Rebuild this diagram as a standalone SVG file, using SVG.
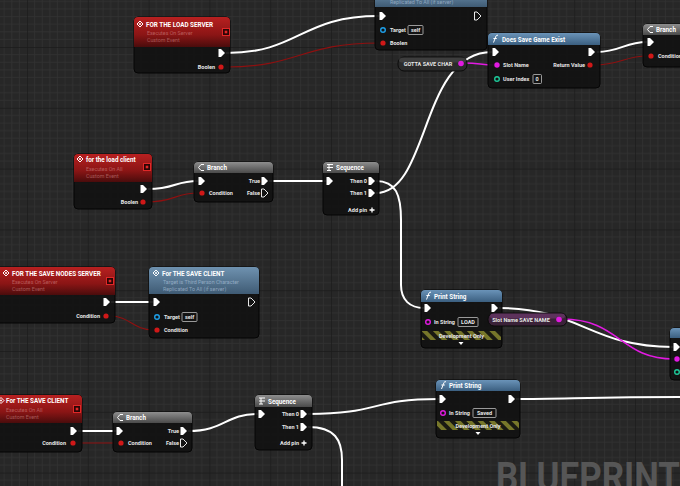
<svg xmlns="http://www.w3.org/2000/svg" xmlns:xlink="http://www.w3.org/1999/xlink" width="680" height="486" viewBox="0 0 680 486">
<style>
.t{font-family:Roboto,"Liberation Sans",sans-serif;font-weight:bold;fill:#fff}
.ti{font-size:6.3px}
.sb{font-size:5.3px;font-weight:normal}
.sr{fill:#e0a0a0;fill-opacity:.5}
.sbl{fill:#c8dcef;fill-opacity:.55}
.l{font-size:5.5px;fill:#e6e6e6}
.r{text-anchor:end}
.m{text-anchor:middle}
.body{fill:#121212;fill-opacity:.93;stroke:#050505;stroke-width:1}
.ex{fill:#fff}
.exh{fill:none;stroke:#fff;stroke-width:.9}
.w{fill:none;stroke:#fff;stroke-width:2}
.rw{fill:none;stroke:#8e1010;stroke-width:1.2}
.mw{fill:none;stroke:#e21ae2;stroke-width:1.5}
.box{fill:none;stroke:#bdbdbd;stroke-width:.8}
.icon{fill:none;stroke:#fff;stroke-width:1}
</style>
<defs>
<pattern id="grid" width="60.8" height="60.8" x="27" y="47" patternUnits="userSpaceOnUse">
<rect width="60.8" height="60.8" fill="#272727"/>
<g stroke="#323232" stroke-width=".8">
<path d="M7.6,0V60.8M15.2,0V60.8M22.8,0V60.8M30.4,0V60.8M38,0V60.8M45.6,0V60.8M53.2,0V60.8"/>
<path d="M0,7.6H60.8M0,15.2H60.8M0,22.8H60.8M0,30.4H60.8M0,38H60.8M0,45.6H60.8M0,53.2H60.8"/>
</g>
<path d="M0,0V60.8M0,0H60.8" stroke="#1b1b1b" stroke-width="1.4"/>
</pattern>
<pattern id="stripe" width="8" height="8" patternUnits="userSpaceOnUse" patternTransform="rotate(-45)">
<rect width="8" height="8" fill="#191912"/>
<rect width="4" height="8" fill="#77772a"/>
</pattern>
<linearGradient id="gRed" x1="0" y1="0" x2="0" y2="1">
<stop offset="0" stop-color="#b82020"/><stop offset=".6" stop-color="#8a1515"/><stop offset="1" stop-color="#4a0c0c"/>
</linearGradient>
<linearGradient id="gBlue" x1="0" y1="0" x2="0" y2="1">
<stop offset="0" stop-color="#6a93b8"/><stop offset="1" stop-color="#3b5f80"/>
</linearGradient>
<linearGradient id="gSteel" x1="0" y1="0" x2="0" y2="1">
<stop offset="0" stop-color="#6f92b0"/><stop offset="1" stop-color="#3f5b74"/>
</linearGradient>
<linearGradient id="gGray" x1="0" y1="0" x2="0" y2="1">
<stop offset="0" stop-color="#8e8e8e"/><stop offset="1" stop-color="#4a4a4a"/>
</linearGradient>
<path id="exp" d="M-3.5,-4 h2.5 l4,4 l-4,4 h-2.5 z"/>
<g id="dlg"><rect x="-3.5" y="-3.5" width="7" height="7" fill="#2a0505" stroke="#e02828" stroke-width="1"/><rect x="-1.3" y="-1.3" width="2.6" height="2.6" fill="#e02828"/></g>
<g id="evi"><path d="M0,-3 L3,0 L0,3 L-3,0 Z" class="icon"/><circle r="1" fill="#fff"/></g>
<path id="fni" d="M-1.5,3.5 L1,-3 Q1.5,-4 3,-3.8 M-1.6,-0.5 H1.8" class="icon"/>
<path id="bri" d="M3,-3 H0 L-2.5,0 L0,3 H3" class="icon"/>
<path id="sqi" d="M-3,-3 H3 M-3,0 H3 M-3,3 H1 M-1,-3 V3" class="icon"/>
</defs>

<rect width="680" height="486" fill="url(#grid)"/>

<text class="t" x="496" y="491" font-size="40" fill="#555" style="fill:#565656" textLength="184" lengthAdjust="spacingAndGlyphs">BLUEPRINT</text>

<g id="connectors">
<path class="w" d="M226,53 C300,53 300,16 379,16"/>
<path class="rw" d="M225,67 C300,67 300,43 379,43"/>
<path class="w" d="M597,52 C620,52 625,42 647,42"/>
<path class="rw" d="M594,65 C620,65 625,56 647,56"/>
<path class="mw" d="M464,63 C480,63 480,65 494,65"/>
<path class="w" d="M376,193 C430,193 420,52 492,52"/>
<path class="w" d="M376,181 C396,181 401,195 401,220 L401,285 C401,300 410,308 424,308"/>
<path class="w" d="M148,189 C175,189 175,181 198,181"/>
<path class="rw" d="M147,202 C175,202 175,193 198,193"/>
<path class="w" d="M269,181 L326,181"/>
<path class="w" d="M111,302 L153,302"/>
<path class="rw" d="M110,316 C130,316 133,330 153,330"/>
<path class="w" d="M499,308 C580,308 590,347 673,347"/>
<path class="mw" d="M562,319 C620,319 620,359 674,359"/>
<path class="w" d="M78,431 L116,431"/>
<path class="rw" d="M77,443 L117,443"/>
<path class="w" d="M188,431 C225,431 225,414 258,414"/>
<path class="w" d="M308,414 C380,414 370,399 439,399"/>
<path class="w" d="M308,427 C335,427 342,440 342,460 L342,486"/>
<path class="w" d="M516,399 C560,399 600,397 680,397"/>
</g>

<g id="n-load-server">
<rect class="body" x="134" y="17" width="96" height="56" rx="4"/>
<path d="M134,47 V21 Q134,17 138,17 H226 Q230,17 230,21 V47 Z" fill="url(#gRed)"/>
<use href="#evi" x="140" y="24"/>
<text class="t ti" x="146" y="26.5">FOR THE LOAD SERVER</text>
<text class="t sb sr" x="147" y="35">Executes On Server</text>
<text class="t sb sr" x="147" y="42">Custom Event</text>
<use href="#dlg" x="226" y="32"/>
<use href="#exp" class="ex" x="222" y="53"/>
<text class="t l r" x="215" y="69">Boolen</text>
<circle cx="221" cy="67" r="2.6" fill="#d01818"/>
</g>

<g id="n-replicated-top">
<rect class="body" x="375" y="-10" width="112" height="60" rx="4"/>
<path d="M375,-10 H487 V7 H375 Z" fill="url(#gSteel)"/>
<text class="t sb sbl" x="390" y="4">Replicated To All (if server)</text>
<use href="#exp" class="ex" x="383" y="16"/>
<use href="#exp" class="exh" x="478" y="16"/>
<circle cx="383" cy="30" r="2.3" fill="none" stroke="#1ea0ea" stroke-width="1.4"/>
<text class="t l" x="390" y="32">Target</text>
<rect class="box" x="408" y="25.5" width="15" height="9" rx="1"/>
<text class="t l m" x="415.5" y="32">self</text>
<circle cx="383" cy="43" r="2.6" fill="#d01818"/>
<text class="t l" x="390" y="45">Boolen</text>
</g>

<g id="n-gotta-save-char">
<rect x="398" y="57" width="69" height="14" rx="6" fill="#2b2b2b" stroke="#0a0a0a"/>
<rect x="399" y="57.5" width="67" height="5" rx="3" fill="#4a4a4a" fill-opacity=".6"/>
<text class="t l m" x="428" y="66">GOTTA SAVE CHAR</text>
<circle cx="461" cy="63.5" r="2.8" fill="#e21ae2"/>
</g>

<g id="n-does-save-game-exist">
<rect class="body" x="488" y="33" width="112" height="55" rx="4"/>
<path d="M488,45 V37 Q488,33 492,33 H596 Q600,33 600,37 V45 Z" fill="url(#gBlue)"/>
<use href="#fni" x="495" y="39"/>
<text class="t ti" x="502" y="41.5">Does Save Game Exist</text>
<use href="#exp" class="ex" x="496" y="52"/>
<use href="#exp" class="ex" x="592" y="52"/>
<circle cx="497" cy="65" r="2.7" fill="#e21ae2"/>
<text class="t l" x="503" y="67">Slot Name</text>
<text class="t l r" x="585" y="67">Return Value</text>
<circle cx="590" cy="65" r="2.6" fill="#d01818"/>
<circle cx="497" cy="79" r="2.3" fill="none" stroke="#1ec99a" stroke-width="1.4"/>
<text class="t l" x="503" y="81">User Index</text>
<rect class="box" x="533" y="74.5" width="8.5" height="9" rx="1"/>
<text class="t l m" x="537.2" y="81">0</text>
</g>

<g id="n-branch-top">
<rect class="body" x="643" y="24" width="45" height="43" rx="4"/>
<path d="M643,35 V28 Q643,24 647,24 H688 V35 Z" fill="url(#gGray)"/>
<use href="#bri" x="650" y="29.5"/>
<text class="t ti" x="656" y="32">Branch</text>
<use href="#exp" class="ex" x="651" y="42"/>
<circle cx="651" cy="56" r="2.6" fill="#d01818"/>
<text class="t l" x="658" y="58">Condition</text>
</g>

<g id="n-load-client">
<rect class="body" x="74" y="154" width="78" height="55" rx="4"/>
<path d="M74,182 V158 Q74,154 78,154 H148 Q152,154 152,158 V182 Z" fill="url(#gRed)"/>
<use href="#evi" x="80" y="159"/>
<text class="t ti" x="86" y="161.5">for the load client</text>
<text class="t sb sr" x="86" y="171">Executes On All</text>
<text class="t sb sr" x="86" y="178">Custom Event</text>
<use href="#dlg" x="147" y="167"/>
<use href="#exp" class="ex" x="144" y="189"/>
<text class="t l r" x="138" y="204">Boolen</text>
<circle cx="143" cy="202" r="2.6" fill="#d01818"/>
</g>

<g id="n-branch-load">
<rect class="body" x="194" y="162" width="79" height="40" rx="4"/>
<path d="M194,173 V166 Q194,162 198,162 H269 Q273,162 273,166 V173 Z" fill="url(#gGray)"/>
<use href="#bri" x="201" y="167.5"/>
<text class="t ti" x="207" y="170">Branch</text>
<use href="#exp" class="ex" x="202" y="181"/>
<circle cx="202" cy="193" r="2.6" fill="#d01818"/>
<text class="t l" x="209" y="195">Condition</text>
<text class="t l r" x="260" y="183">True</text>
<use href="#exp" class="ex" x="265" y="181"/>
<text class="t l r" x="260" y="195">False</text>
<use href="#exp" class="exh" x="265" y="193"/>
</g>

<g id="n-sequence-load">
<rect class="body" x="323" y="162" width="56" height="53" rx="4"/>
<path d="M323,173 V166 Q323,162 327,162 H375 Q379,162 379,166 V173 Z" fill="url(#gGray)"/>
<use href="#sqi" x="330" y="167.5"/>
<text class="t ti" x="336" y="170">Sequence</text>
<use href="#exp" class="ex" x="330" y="181"/>
<text class="t l r" x="367" y="183">Then 0</text>
<use href="#exp" class="ex" x="372" y="181"/>
<text class="t l r" x="367" y="195">Then 1</text>
<use href="#exp" class="ex" x="372" y="193"/>
<text class="t l r" x="367" y="212">Add pin</text>
<path d="M372,207.5 V212.5 M369.5,210 H374.5" stroke="#fff" stroke-width="1.3"/>
</g>

<g id="n-save-nodes-server">
<rect class="body" x="-6" y="267" width="121" height="56" rx="4"/>
<path d="M-6,295 V271 Q-6,267 -2,267 H111 Q115,267 115,271 V295 Z" fill="url(#gRed)"/>
<use href="#evi" x="6" y="273"/>
<text class="t ti" x="12" y="275.5">FOR THE SAVE NODES SERVER</text>
<text class="t sb sr" x="12" y="284">Executes On Server</text>
<text class="t sb sr" x="12" y="291">Custom Event</text>
<use href="#dlg" x="110" y="281"/>
<use href="#exp" class="ex" x="107" y="302"/>
<text class="t l r" x="100" y="318">Condition</text>
<circle cx="106" cy="316" r="2.6" fill="#d01818"/>
</g>

<g id="n-for-the-save-client-fn">
<rect class="body" x="149" y="267" width="110" height="71" rx="4"/>
<path d="M149,294 V271 Q149,267 153,267 H255 Q259,267 259,271 V294 Z" fill="url(#gSteel)"/>
<use href="#evi" x="156" y="273"/>
<text class="t ti" x="162" y="275.5">For THE SAVE CLIENT</text>
<text class="t sb sbl" x="163" y="284">Target is Third Person Character</text>
<text class="t sb sbl" x="163" y="291">Replicated To All (if server)</text>
<use href="#exp" class="ex" x="157" y="302"/>
<use href="#exp" class="exh" x="252" y="302"/>
<circle cx="157" cy="317" r="2.3" fill="none" stroke="#1ea0ea" stroke-width="1.4"/>
<text class="t l" x="164" y="319">Target</text>
<rect class="box" x="182" y="312.5" width="15" height="9" rx="1"/>
<text class="t l m" x="189.5" y="319">self</text>
<circle cx="157" cy="330" r="2.6" fill="#d01818"/>
<text class="t l" x="164" y="332">Condition</text>
</g>

<g id="n-print-load">
<rect class="body" x="421" y="290" width="81" height="58" rx="4"/>
<path d="M421,302 V294 Q421,290 425,290 H498 Q502,290 502,294 V302 Z" fill="url(#gBlue)"/>
<use href="#fni" x="428" y="296"/>
<text class="t ti" x="434" y="298.5">Print String</text>
<use href="#exp" class="ex" x="428" y="308"/>
<use href="#exp" class="ex" x="495" y="308"/>
<circle cx="428" cy="322" r="2.3" fill="none" stroke="#e21ae2" stroke-width="1.4"/>
<text class="t l" x="434" y="324">In String</text>
<rect class="box" x="458" y="317.5" width="20" height="9" rx="1"/>
<text class="t l m" x="468" y="324">LOAD</text>
<rect x="422" y="331" width="79" height="9" fill="url(#stripe)"/>
<text class="t l m" x="461.5" y="338">Development Only</text>
<path d="M458.5,342 h5 l-2.5,3 z" fill="#fff"/>
</g>

<g id="n-slot-name-save-name">
<rect x="488" y="313" width="79" height="13" rx="6" fill="#3a2238" stroke="#0a0a0a"/>
<rect x="490" y="313.5" width="75" height="5" rx="3" fill="#a050a0" fill-opacity=".35"/>
<text class="t l m" x="521" y="322">Slot Name SAVE NAME</text>
<circle cx="559" cy="319.5" r="2.8" fill="#e21ae2"/>
</g>

<g id="n-right-partial">
<rect class="body" x="670" y="328" width="20" height="52" rx="4"/>
<path d="M670,338 V332 Q670,328 674,328 H690 V338 Z" fill="url(#gBlue)"/>
<use href="#exp" class="ex" x="677" y="347"/>
<circle cx="677" cy="359" r="2.7" fill="#e21ae2"/>
<circle cx="677" cy="372" r="2.3" fill="none" stroke="#1ec99a" stroke-width="1.4"/>
</g>

<g id="n-save-client-event">
<rect class="body" x="-6" y="395" width="88" height="57" rx="4"/>
<path d="M-6,423 V399 Q-6,395 -2,395 H78 Q82,395 82,399 V423 Z" fill="url(#gRed)"/>
<use href="#evi" x="1" y="400.5"/>
<text class="t ti" x="6" y="403">For THE SAVE CLIENT</text>
<text class="t sb sr" x="6" y="412">Executes On All</text>
<text class="t sb sr" x="6" y="419">Custom Event</text>
<use href="#dlg" x="77" y="409"/>
<use href="#exp" class="ex" x="74" y="431"/>
<text class="t l r" x="66" y="445">Condition</text>
<circle cx="73" cy="443" r="2.6" fill="#d01818"/>
</g>

<g id="n-branch-save">
<rect class="body" x="113" y="412" width="79" height="40" rx="4"/>
<path d="M113,423 V416 Q113,412 117,412 H188 Q192,412 192,416 V423 Z" fill="url(#gGray)"/>
<use href="#bri" x="120" y="417.5"/>
<text class="t ti" x="126" y="420">Branch</text>
<use href="#exp" class="ex" x="120" y="431"/>
<circle cx="121" cy="443" r="2.6" fill="#d01818"/>
<text class="t l" x="128" y="445">Condition</text>
<text class="t l r" x="179" y="433">True</text>
<use href="#exp" class="ex" x="184" y="431"/>
<text class="t l r" x="179" y="445">False</text>
<use href="#exp" class="exh" x="184" y="443"/>
</g>

<g id="n-sequence-save">
<rect class="body" x="255" y="395" width="57" height="55" rx="4"/>
<path d="M255,407 V399 Q255,395 259,395 H308 Q312,395 312,399 V407 Z" fill="url(#gGray)"/>
<use href="#sqi" x="262" y="401"/>
<text class="t ti" x="268" y="403.5">Sequence</text>
<use href="#exp" class="ex" x="262" y="414"/>
<text class="t l r" x="299" y="416">Then 0</text>
<use href="#exp" class="ex" x="304" y="414"/>
<text class="t l r" x="299" y="429">Then 1</text>
<use href="#exp" class="ex" x="304" y="427"/>
<text class="t l r" x="299" y="445">Add pin</text>
<path d="M304,440.5 V445.5 M301.5,443 H306.5" stroke="#fff" stroke-width="1.3"/>
</g>

<g id="n-print-saved">
<rect class="body" x="436" y="380" width="84" height="58" rx="4"/>
<path d="M436,391 V384 Q436,380 440,380 H516 Q520,380 520,384 V391 Z" fill="url(#gBlue)"/>
<use href="#fni" x="443" y="385.5"/>
<text class="t ti" x="449" y="388">Print String</text>
<use href="#exp" class="ex" x="443" y="399"/>
<use href="#exp" class="ex" x="512" y="399"/>
<circle cx="443" cy="413" r="2.3" fill="none" stroke="#e21ae2" stroke-width="1.4"/>
<text class="t l" x="449" y="415">In String</text>
<rect class="box" x="473" y="408.5" width="23" height="9" rx="1"/>
<text class="t l m" x="484.5" y="415">Saved</text>
<rect x="437" y="421" width="82" height="9" fill="url(#stripe)"/>
<text class="t l m" x="478" y="428">Development Only</text>
<path d="M475.5,432 h5 l-2.5,3 z" fill="#fff"/>
</g>
</svg>
